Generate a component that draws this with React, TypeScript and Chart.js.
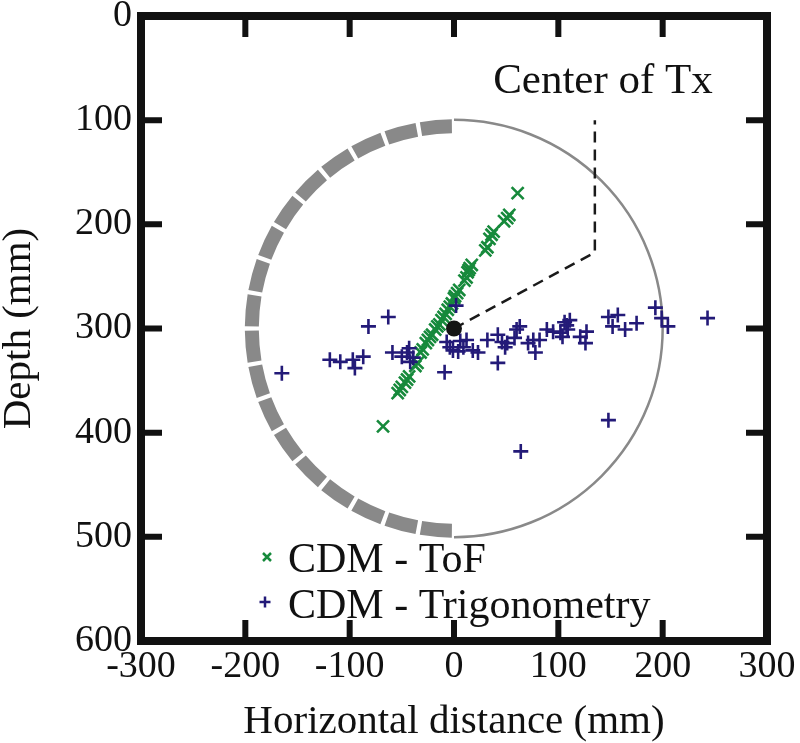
import React, { useEffect, useRef } from "react";
import { Chart, registerables } from "chart.js";

Chart.register(...registerables);

const W = 800;
const H = 743;
const SERIF = '"Liberation Serif", "Times New Roman", serif';

// Axis ranges and tick values (mm)
const xTickValues = [-300, -200, -100, 0, 100, 200, 300];
const depthTickValues = [0, 100, 200, 300, 400, 500, 600];
const innerXTicks = [-200, -100, 0, 100, 200];
const innerDepthTicks = [100, 200, 300, 400, 500];

// CDM estimated by time of flight
const tofX = [
  -68, -54, -52, -50, -47, -45, -43, -37, -35, -32, -30, -27, -25, -23, -21,
  -18, -16, -14, -12, -10, -8, -6, -4, -2, 0, 1, 3, 5, 10, 12, 13, 14, 15,
  17, 30, 32, 34, 36, 38, 48, 51, 53, 61,
];
const tofDepth = [
  394, 362, 359, 356, 352, 349, 346, 336, 333, 323, 320, 314, 311, 308, 306,
  301, 298, 296, 292, 289, 286, 282, 279, 276, 271, 269, 266, 263, 254, 251,
  246, 244, 242, 239, 225, 222, 214, 210, 207, 197, 194, 191, 170,
];

// CDM estimated by trigonometry
const trigX = [
  -165, -119, -109, -97, -87, -95, -82, -63, -59, -50, -45, -43, -39, -42,
  -9, 2, -7, -1, 4, -4, 6, 12, 9, 18, 23, 32, 42, 46, 51, 49, 42, 60, 63,
  58, 71, 78, 76, 82, 89, 95, 102, 106, 108, 109, 111, 104, 121, 127, 126,
  148, 157, 152, 164, 175, 193, 199, 205, 243, 148, 64,
];
const trigDepth = [
  343, 330, 332, 330, 327, 338, 298, 289, 323, 327, 323, 319, 328, 332,
  342, 278, 313, 321, 322, 318, 312, 311, 318, 321, 323, 311, 306, 313, 314,
  318, 333, 301, 298, 309, 314, 323, 311, 311, 301, 303, 304, 294, 297, 301,
  292, 308, 308, 303, 314, 289, 287, 298, 301, 295, 280, 290, 298, 290, 388,
  418,
];

// Transmitter centre, ring of radius 200 mm around it, and the callout leader
const txX = 0;
const txDepth = 300;
const ringRadius = 200;
const leaderX = [0, 135, 135];
const leaderDepth = [300, 227, 100];
const calloutText = "Center of Tx";
const legendLabels = ["CDM - ToF", "CDM - Trigonometry"];
const xTitle = "Horizontal distance (mm)";
const yTitle = "Depth (mm)";

const TOF_COLOR = "#178a3c";
const TRIG_COLOR = "#231a78";
const RING_COLOR = "#898989";

const figurePlugin = {
  id: "figureDecor",
  beforeDatasetsDraw(chart: any) {
    const { ctx, scales } = chart;
    const x = scales.x;
    const y = scales.y;
    const cx = x.getPixelForValue(txX);
    const cy = y.getPixelForValue(txDepth);
    const r = x.getPixelForValue(txX + ringRadius) - cx;
    ctx.save();
    // thin right half of the ring
    ctx.strokeStyle = RING_COLOR;
    ctx.lineWidth = 2.5;
    ctx.beginPath();
    ctx.arc(cx, cy, r, -Math.PI / 2, Math.PI / 2);
    ctx.stroke();
    // segmented left half (receiver elements)
    ctx.lineWidth = 14;
    ctx.lineCap = "butt";
    const rb = r - 6.5;
    const seg = (10 * Math.PI) / 180;
    const gap = (0.6 * Math.PI) / 180;
    for (let i = 0; i < 18; i++) {
      const a0 = Math.PI / 2 + i * seg;
      ctx.beginPath();
      ctx.arc(cx, cy, rb, a0 + gap, a0 + seg - gap);
      ctx.stroke();
    }
    // dashed leader from the centre to the callout
    ctx.strokeStyle = "#1a1a1a";
    ctx.lineWidth = 2.5;
    ctx.setLineDash([11, 7]);
    ctx.beginPath();
    leaderX.forEach((lx, i) => {
      const px = x.getPixelForValue(lx);
      const py = y.getPixelForValue(leaderDepth[i]);
      if (i === 0) ctx.moveTo(px, py);
      else ctx.lineTo(px, py);
    });
    ctx.stroke();
    ctx.setLineDash([]);
    ctx.restore();
  },
  afterDatasetsDraw(chart: any) {
    const { ctx, scales } = chart;
    const x = scales.x;
    const y = scales.y;
    ctx.save();
    // transmitter centre
    ctx.fillStyle = "#141414";
    ctx.beginPath();
    ctx.arc(x.getPixelForValue(txX), y.getPixelForValue(txDepth), 8, 0, Math.PI * 2);
    ctx.fill();
    ctx.restore();
  },
  afterDraw(chart: any) {
    const { ctx, chartArea, scales } = chart;
    const x = scales.x;
    const y = scales.y;
    const { left, right, top, bottom } = chartArea;
    ctx.save();
    // frame
    ctx.strokeStyle = "#111";
    ctx.lineWidth = 8;
    ctx.strokeRect(left, top, right - left, bottom - top);
    // inward tick marks on all four sides
    ctx.lineWidth = 6;
    const tl = 21;
    ctx.beginPath();
    innerXTicks.forEach((v) => {
      const px = x.getPixelForValue(v);
      ctx.moveTo(px, top);
      ctx.lineTo(px, top + tl);
      ctx.moveTo(px, bottom);
      ctx.lineTo(px, bottom - tl);
    });
    innerDepthTicks.forEach((v) => {
      const py = y.getPixelForValue(v);
      ctx.moveTo(left, py);
      ctx.lineTo(left + tl, py);
      ctx.moveTo(right, py);
      ctx.lineTo(right - tl, py);
    });
    ctx.stroke();

    ctx.fillStyle = "#111";
    // callout
    ctx.font = `43px ${SERIF}`;
    ctx.textAlign = "center";
    ctx.textBaseline = "alphabetic";
    ctx.fillText(calloutText, 603, 93);

    // axis titles
    ctx.font = `41px ${SERIF}`;
    ctx.fillText(xTitle, (left + right) / 2, 733);
    ctx.save();
    ctx.translate(30, (top + bottom) / 2);
    ctx.rotate(-Math.PI / 2);
    ctx.fillText(yTitle, 0, 0);
    ctx.restore();

    // legend
    ctx.font = `42px ${SERIF}`;
    ctx.textAlign = "left";
    ctx.fillText(legendLabels[0], 288, 572);
    ctx.fillText(legendLabels[1], 288, 618);
    ctx.lineWidth = 2.5;
    ctx.strokeStyle = TOF_COLOR;
    ctx.beginPath();
    ctx.moveTo(263, 553);
    ctx.lineTo(271, 561);
    ctx.moveTo(271, 553);
    ctx.lineTo(263, 561);
    ctx.stroke();
    ctx.strokeStyle = TRIG_COLOR;
    ctx.beginPath();
    ctx.moveTo(259.5, 602);
    ctx.lineTo(270.5, 602);
    ctx.moveTo(265, 596.5);
    ctx.lineTo(265, 607.5);
    ctx.stroke();
    ctx.restore();
  },
};

export default function App() {
  const canvasRef = useRef<HTMLCanvasElement | null>(null);

  useEffect(() => {
    const canvas = canvasRef.current;
    if (!canvas) return;
    const chart = new Chart(canvas, {
      type: "scatter",
      data: {
        datasets: [
          {
            label: legendLabels[1],
            data: trigX.map((v, i) => ({ x: v, y: trigDepth[i] })),
            pointStyle: "cross",
            pointRadius: 7.5,
            pointBorderWidth: 2.6,
            borderColor: TRIG_COLOR,
            backgroundColor: TRIG_COLOR,
            order: 0,
          },
          {
            label: legendLabels[0],
            data: tofX.map((v, i) => ({ x: v, y: tofDepth[i] })),
            pointStyle: "crossRot",
            pointRadius: 8.5,
            pointBorderWidth: 2.6,
            borderColor: TOF_COLOR,
            backgroundColor: TOF_COLOR,
            order: 1,
          },
        ],
      },
      options: {
        responsive: false,
        devicePixelRatio: 1,
        animation: false,
        events: [],
        layout: { padding: { top: 16, right: 33, left: 0, bottom: 0 } },
        plugins: {
          legend: { display: false },
          tooltip: { enabled: false },
          title: { display: false },
        },
        scales: {
          x: {
            type: "linear",
            min: -300,
            max: 300,
            afterBuildTicks: (s: any) => {
              s.ticks = xTickValues.map((v) => ({ value: v }));
            },
            afterFit: (s: any) => {
              s.height = H - 641;
              s.paddingLeft = 0;
              s.paddingRight = 0;
            },
            grid: { display: false, drawTicks: false },
            border: { display: false },
            ticks: {
              color: "#111",
              padding: 3,
              maxRotation: 0,
              autoSkip: false,
              font: { family: SERIF, size: 38 },
            },
          },
          y: {
            type: "linear",
            reverse: true,
            min: 0,
            max: 600,
            afterBuildTicks: (s: any) => {
              s.ticks = depthTickValues.map((v) => ({ value: v }));
            },
            afterFit: (s: any) => {
              s.width = 141;
              s.paddingTop = 0;
              s.paddingBottom = 0;
            },
            grid: { display: false, drawTicks: false },
            border: { display: false },
            ticks: {
              color: "#111",
              padding: 9,
              autoSkip: false,
              font: { family: SERIF, size: 38 },
            },
          },
        },
      },
      plugins: [figurePlugin],
    });
    return () => chart.destroy();
  }, []);

  return (
    <div style={{ position: "fixed", left: 0, top: 0, width: W, height: H, background: "#fff" }}>
      <canvas ref={canvasRef} width={W} height={H} style={{ display: "block", width: W, height: H }} />
    </div>
  );
}
